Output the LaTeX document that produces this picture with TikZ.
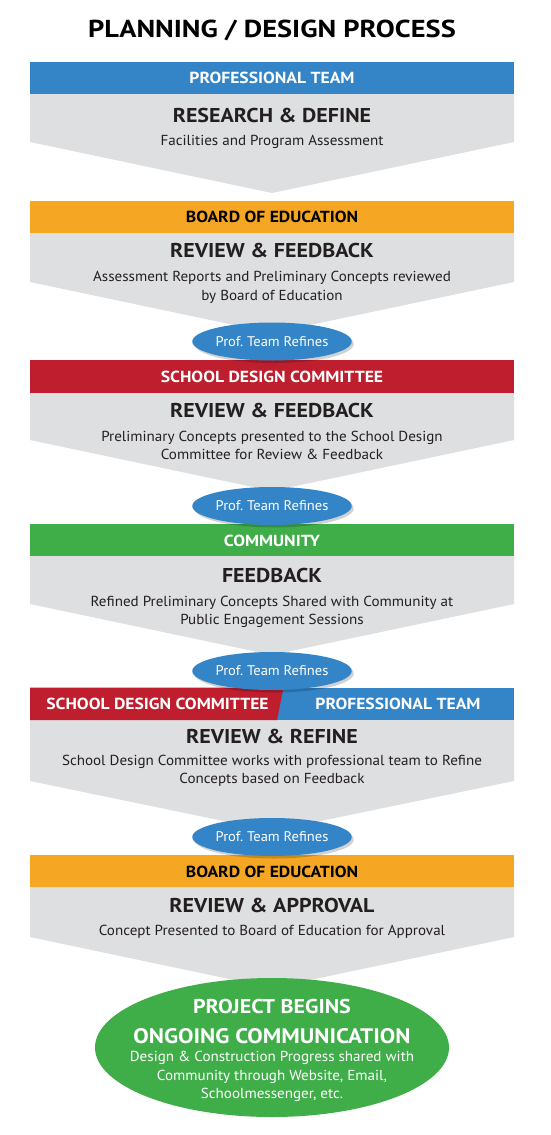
\documentclass[tikz,border=0pt]{standalone}
\usepackage{fontspec}
\setmainfont{PT Sans}[UprightFeatures={FakeStretch=1.04}, BoldFeatures={FakeStretch=1.1}]
\newfontfamily\titlefont{PT Sans}[UprightFeatures={FakeStretch=1.16}, BoldFeatures={FakeStretch=1.16}]
\usetikzlibrary{shapes.geometric,shadows}
\frenchspacing
\definecolor{pblue}{HTML}{3485C7}
\definecolor{porange}{HTML}{F5A623}
\definecolor{pred}{HTML}{BE1E2D}
\definecolor{pgreen}{HTML}{3FAE49}
\definecolor{pgray}{HTML}{DEDFE0}
\definecolor{txt}{HTML}{231F20}
\tikzset{
  graybody/.style={fill=pgray},
  hdrbar/.style={fill=#1},
  hdrtext/.style={font=\bfseries\fontsize{16}{18}\selectfont, text=white, inner sep=0pt, text height=11.2pt, text depth=0pt, anchor=center},
  steptitle/.style={font=\bfseries\fontsize{20}{22}\selectfont, text=txt, inner sep=0pt, text height=14pt, text depth=0pt},
  bodyline/.style={font=\fontsize{14.5}{17}\selectfont, text=txt, inner sep=0pt, text height=10.2pt, text depth=0pt},
  refine/.style={ellipse, fill=pblue, minimum width=141pt, minimum height=38pt, inner sep=0pt,
    text=white, font=\fontsize{14}{16}\selectfont,
    drop shadow={shadow xshift=2pt, shadow yshift=-2.5pt, opacity=0.18, fill=black}},
  endtitle/.style={font=\bfseries\fontsize{20}{22}\selectfont, text=white, inner sep=0pt, text height=14pt, text depth=0pt},
  endline/.style={font=\fontsize{14.5}{17}\selectfont, text=white, inner sep=0pt, text height=10.2pt, text depth=0pt},
}
\begin{document}
\begin{tikzpicture}[x=1pt,y=-1pt]
\useasboundingbox (0,0) rectangle (550,1135);
\fill[white] (0,0) rectangle (550,1135);

% title
\node[font=\titlefont\bfseries\fontsize{24.5}{26}\selectfont, text=black, inner sep=0pt, text height=17pt, text depth=0pt] (title) at (272,29) {PLANNING / DESIGN PROCESS};

% ---------- block 1
\fill[graybody] (30,94) -- (514,94) -- (514,142) -- (272,193) -- (30,142) -- cycle;
\fill[hdrbar=pblue] (30,62) rectangle (514,94);
\node[hdrtext] (h1) at (272,78) {PROFESSIONAL TEAM};
\node[steptitle] (t1) at (272,115) {RESEARCH \& DEFINE};
\node[bodyline] (b1a) at (272,140) {Facilities and Program Assessment};

% ---------- block 2
\fill[graybody] (30,233) -- (514,233) -- (514,282) -- (272,333) -- (30,282) -- cycle;
\fill[hdrbar=porange] (30,201) rectangle (514,233);
\node[hdrtext, text=black] (h2) at (272,217) {BOARD OF EDUCATION};
\node[steptitle] (t2) at (272,250.5) {REVIEW \& FEEDBACK};
\node[bodyline] (b2a) at (272,276) {Assessment Reports and Preliminary Concepts reviewed};
\node[bodyline] (b2b) at (272,295) {by Board of Education};

% ---------- block 3
\fill[graybody] (30,393) -- (514,393) -- (514,440) -- (272,491) -- (30,440) -- cycle;
\fill[hdrbar=pred] (30,360) rectangle (514,393);
\node[hdrtext] (h3) at (272,376.5) {SCHOOL DESIGN COMMITTEE};
\node[steptitle] (t3) at (272,410) {REVIEW \& FEEDBACK};
\node[bodyline] (b3a) at (272,436) {Preliminary Concepts presented to the School Design};
\node[bodyline] (b3b) at (272,454) {Committee for Review \& Feedback};

% ---------- block 4
\fill[graybody] (30,556) -- (514,556) -- (514,604) -- (272,655) -- (30,604) -- cycle;
\fill[hdrbar=pgreen] (30,523.5) rectangle (514,556);
\node[hdrtext] (h4) at (272,540.5) {COMMUNITY};
\node[steptitle] (t4) at (272,575) {FEEDBACK};
\node[bodyline] (b4a) at (272,601) {Refined Preliminary Concepts Shared with Community at};
\node[bodyline] (b4b) at (272,619) {Public Engagement Sessions};

% ---------- block 5
\fill[graybody] (30,720) -- (514,720) -- (514,781) -- (272,831) -- (30,781) -- cycle;
\fill[hdrbar=pblue] (30,687.5) rectangle (514,720);
\fill[hdrbar=pred] (30,687.5) -- (283.5,687.5) -- (277,720) -- (30,720) -- cycle;
\node[hdrtext] (h5a) at (157.5,704) {SCHOOL DESIGN COMMITTEE};
\node[hdrtext] (h5b) at (398,704) {PROFESSIONAL TEAM};
\node[steptitle] (t5) at (272,736) {REVIEW \& REFINE};
\node[bodyline] (b5a) at (272,760) {School Design Committee works with professional team to Refine};
\node[bodyline] (b5b) at (272,778) {Concepts based on Feedback};

% ---------- block 6
\fill[graybody] (30,887) -- (514,887) -- (514,937) -- (272,988) -- (30,937) -- cycle;
\fill[hdrbar=porange] (30,855) rectangle (514,887);
\node[hdrtext, text=black] (h6) at (272,871.5) {BOARD OF EDUCATION};
\node[steptitle] (t6) at (272,905) {REVIEW \& APPROVAL};
\node[bodyline] (b6a) at (272,930.5) {Concept Presented to Board of Education for Approval};

% ---------- refine ellipses
\node[refine] (r1) at (272,341.5) {Prof.\ Team Refines};
\node[refine] (r2) at (272,506) {Prof.\ Team Refines};
\node[refine] (r3) at (272,671) {Prof.\ Team Refines};
\node[refine] (r4) at (272,837) {Prof.\ Team Refines};

% ---------- final ellipse
\node[ellipse, fill=pgreen, minimum width=354pt, minimum height=139pt, inner sep=0pt] (fin) at (272,1047.5) {};
\node[endtitle] (f1) at (272,1006.7) {PROJECT BEGINS};
\node[endtitle, font=\bfseries\fontsize{21}{23}\selectfont] (f2) at (272,1036.7) {ONGOING COMMUNICATION};
\node[endline] (f3) at (272,1056.7) {Design \& Construction Progress shared with};
\node[endline] (f4) at (272,1075) {Community through Website, Email,};
\node[endline] (f5) at (272,1093) {Schoolmessenger, etc.};
\end{tikzpicture}
\end{document}
